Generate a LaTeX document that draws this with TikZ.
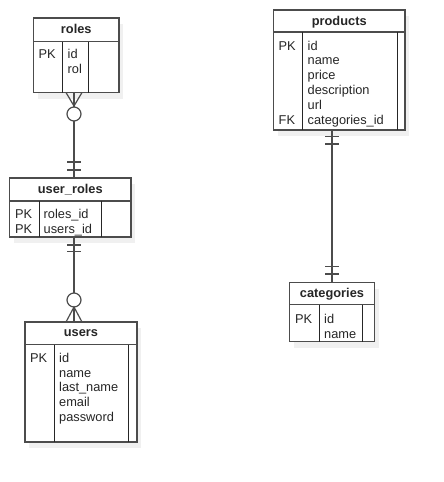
\documentclass[tikz,border=0pt]{standalone}
\usepackage{fontspec}
\setmainfont{Liberation Sans}

\begin{document}
\begin{tikzpicture}[x=1pt,y=-1pt,
  shd/.style={fill=black!6},
  tbl/.style={draw=black!70,line width=1.3pt,fill=white,inner sep=0pt,outer sep=0pt,anchor=north west},
  ttl/.style={anchor=base,inner sep=0pt,font=\fontsize{12.8}{15}\selectfont\bfseries,text=black!85},
  fld/.style={anchor=base west,inner sep=0pt,font=\fontsize{12.8}{15}\selectfont,text=black!85},
  sep/.style={draw=black!70,line width=1.3pt},
  col/.style={draw=black!85,line width=0.8pt},
  rel/.style={draw=black!70,line width=1.2pt},
  hole/.style={draw=black!70,line width=1.2pt,fill=white}]
\path[use as bounding box] (0,0) rectangle (444,482);
% roles
\fill[shd] (37.5,24) rectangle ++(85.5,74.5);
\node[tbl,minimum width=85.5,minimum height=74.5] (roles) at (33.5,18) {};
\draw[sep] (33.5,41.5) -- (119,41.5);
\draw[col] (62,41.5) -- (62,92.5);
\draw[col] (88.5,41.5) -- (88.5,92.5);
\node[ttl] (roles-t) at (76.25,33.5) {roles};
\node[fld] (roles-pk) at (38.5,58) {PK};
\node[fld] (roles-id) at (67.5,58) {id};
\node[fld] (roles-rol) at (67.5,73) {rol};
% user_roles
\fill[shd] (13.5,184) rectangle ++(121.5,59);
\node[tbl,minimum width=121.5,minimum height=59] (uroles) at (9.5,178) {};
\draw[sep] (9.5,201) -- (131,201);
\draw[col] (39,201) -- (39,237);
\draw[col] (101,201) -- (101,237);
\node[ttl] (uroles-t) at (70.25,193.5) {user\_roles};
\node[fld] (uroles-pk1) at (15,218) {PK};
\node[fld] (uroles-pk2) at (15,233) {PK};
\node[fld] (uroles-rid) at (43.5,218) {roles\_id};
\node[fld] (uroles-uid) at (43.5,233) {users\_id};
% users
\fill[shd] (29,328) rectangle ++(112,120);
\node[tbl,minimum width=112,minimum height=120] (users) at (25,322) {};
\draw[sep] (25,344.5) -- (137,344.5);
\draw[col] (54,344.5) -- (54,442);
\draw[col] (128,344.5) -- (128,442);
\node[ttl] (users-t) at (81,336.5) {users};
\node[fld] (users-pk) at (30,362.5) {PK};
\node[fld] (users-id) at (59,362.5) {id};
\node[fld] (users-name) at (59,377.2) {name};
\node[fld] (users-last) at (59,391.9) {last\_name};
\node[fld] (users-mail) at (59,406.6) {email};
\node[fld] (users-pass) at (59,421.3) {password};
% products
\fill[shd] (277.5,16) rectangle ++(131.5,120);
\node[tbl,minimum width=131.5,minimum height=120] (products) at (273.5,10) {};
\draw[sep] (273.5,32) -- (405,32);
\draw[col] (302.5,32) -- (302.5,130);
\draw[col] (397,32) -- (397,130);
\node[ttl] (products-t) at (339.25,25.5) {products};
\node[fld] (products-pk) at (278.5,50) {PK};
\node[fld] (products-fk) at (278.5,124) {FK};
\node[fld] (products-id) at (307.5,50) {id};
\node[fld] (products-name) at (307.5,64.8) {name};
\node[fld] (products-price) at (307.5,79.6) {price};
\node[fld] (products-desc) at (307.5,94.4) {description};
\node[fld] (products-url) at (307.5,109.2) {url};
\node[fld] (products-cid) at (307.5,124) {categories\_id};
% categories
\fill[shd] (293.5,288.5) rectangle ++(85,59);
\node[tbl,minimum width=85,minimum height=59] (categories) at (289.5,282.5) {};
\draw[sep] (289.5,304.5) -- (374.5,304.5);
\draw[col] (319,304.5) -- (319,341.5);
\draw[col] (362,304.5) -- (362,341.5);
\node[ttl] (categories-t) at (332,297.5) {categories};
\node[fld] (categories-pk) at (295,323.3) {PK};
\node[fld] (categories-id) at (324,323.3) {id};
\node[fld] (categories-name) at (324,338) {name};
% roles -- user_roles
\draw[rel] ([xshift=-2.25pt]roles.south) -- ([xshift=3.75pt]uroles.north);
\draw[rel] (66,92.5) -- (74,106) -- (82,92.5);
\draw[hole] (74,114) circle (7);
\draw[rel] (67,162) -- (81,162);
\draw[rel] (67,170) -- (81,170);
% user_roles -- users
\draw[rel] ([xshift=3.75pt]uroles.south) -- ([xshift=-7pt]users.north);
\draw[rel] (67,245) -- (81,245);
\draw[rel] (67,251.5) -- (81,251.5);
\draw[hole] (74,300) circle (7);
\draw[rel] (66,322) -- (74,307) -- (82,322);
% products -- categories
\draw[rel] ([xshift=-7.25pt]products.south) -- (categories.north);
\draw[rel] (325,136.5) -- (339,136.5);
\draw[rel] (325,144) -- (339,144);
\draw[rel] (325,266.5) -- (339,266.5);
\draw[rel] (325,274) -- (339,274);
\end{tikzpicture}
\end{document}
